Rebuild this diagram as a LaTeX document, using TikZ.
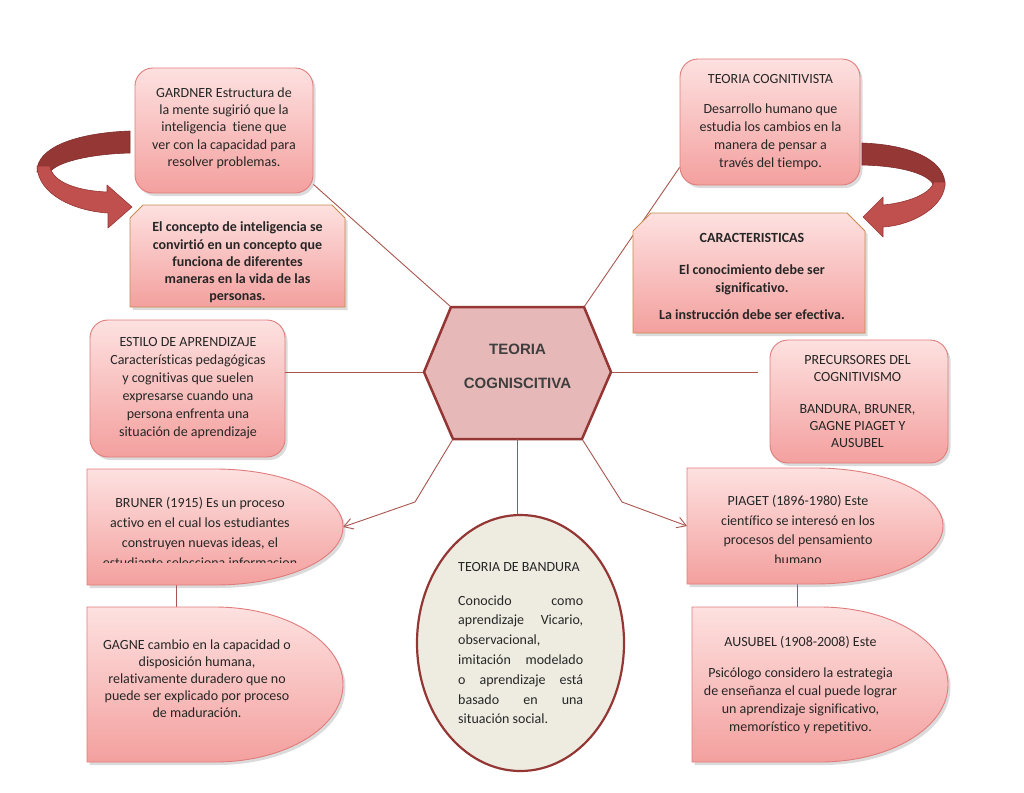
\documentclass[tikz,border=0pt]{standalone}
\usepackage{fontspec}
\setmainfont{Carlito}[Ligatures={NoCommon}]
\newfontfamily\hexfont{Liberation Sans}
\usetikzlibrary{arrows.meta,shadows,shapes.geometric,calc}
\definecolor{pinktop}{HTML}{FDE1E0}
\definecolor{pinkbot}{HTML}{F3A09E}
\definecolor{boxedge}{HTML}{E07C7C}
\definecolor{snipedge}{HTML}{C98A4E}
\definecolor{linkc}{HTML}{A8554F}
\definecolor{darkred}{HTML}{943634}
\definecolor{backarrow}{HTML}{953735}
\definecolor{frontarrow}{HTML}{C0504D}
\definecolor{hexfill}{HTML}{E6B9B8}
\definecolor{ellfill}{HTML}{EEECE1}
\definecolor{txt}{HTML}{262626}
\definecolor{hextxt}{HTML}{3F3F3F}
\tikzset{
  softshadow/.style={drop shadow={shadow xshift=2.5pt, shadow yshift=-3pt, opacity=0.28}},
  roundbox/.style={draw=boxedge, line width=0.9pt, rounded corners=18pt, top color=pinktop, bottom color=pinkbot, softshadow, inner sep=0pt},
  snipbox/.style={draw=snipedge, line width=0.9pt, top color=pinktop, bottom color=pinkbot, softshadow},
  delaybox/.style={draw=boxedge, line width=0.9pt, top color=pinktop, bottom color=pinkbot, softshadow},
  txtnode/.style={text=txt, align=center, inner sep=0pt, font=\fontsize{14}{18}\selectfont},
  link/.style={draw=linkc, line width=0.9pt},
  linkarrow/.style={link, -{Straight Barb[length=9pt,width=11pt]}},
  backband/.style={fill=backarrow, draw=darkred!85!black, line width=0.6pt},
  frontband/.style={fill=frontarrow, draw=darkred, line width=0.6pt},
  hextext/.style={text=hextxt, inner sep=0pt, font=\hexfont\bfseries\fontsize{15}{18}\selectfont}
}
\begin{document}
\begin{tikzpicture}[x=1pt, y=-1pt, line join=round]
\fill[white] (0,0) rectangle (1024,792);
\useasboundingbox (0,0) rectangle (1024,792);

% ---------- shape nodes ----------
\node[roundbox, minimum width=178pt, minimum height=125pt] (gardner) at (224,130.5) {};
\node[roundbox, minimum width=180pt, minimum height=126pt] (cog) at (770,122) {};
\node[roundbox, minimum width=195pt, minimum height=137pt] (estilo) at (187.5,388.5) {};
\node[roundbox, minimum width=178pt, minimum height=123pt] (prec) at (859,401.5) {};

% hexagon corners
\coordinate (hTL) at (451,307);
\coordinate (hTR) at (584,307);
\coordinate (hR) at (611,372);
\coordinate (hBR) at (582,439);
\coordinate (hB) at (517.5,439);
\coordinate (hBL) at (453,439);
\coordinate (hL) at (424,372);

% delay shape anchor points
\coordinate (brE) at (343,527);
\coordinate (brS) at (176,585);
\coordinate (gaN) at (176,607);
\coordinate (piW) at (687,526);
\coordinate (piS) at (797,584);
\coordinate (auN) at (797,607);
\coordinate (bendL) at (415,502);
\coordinate (bendR) at (622,502);
\coordinate (precend) at (758,372);

% ---------- connectors ----------
\draw[link] ($(gardner.south east)+(0,-9)$) -- (hTL);
\draw[link] ($(cog.south west)+(0,-18)$) -- (hTR);
\draw[link] (estilo.east |- hL) -- (hL);
\draw[link] (hR) -- (precend);
\draw[linkarrow] (hBL) -- (bendL) -- (brE);
\draw[linkarrow] (hBR) -- (bendR) -- (piW);
\draw[link] (brS) -- (gaN);
\draw[link] (piS) -- (auN);

% ---------- snipped boxes ----------
\path[snipbox] (130,307) -- (130,218) -- (143,205) -- (332,205) -- (345,218) -- (345,307) -- cycle;
\path[snipbox] (633,333) -- (633,231) -- (651,213) -- (847,213) -- (865,231) -- (865,333) -- cycle;

% ---------- delay boxes ----------
\path[delaybox] (87,469) -- (215,469) arc[start angle=-90, end angle=90, x radius=128, y radius=58] -- (87,585) -- cycle;
\path[delaybox] (87,607) -- (215,607) arc[start angle=-90, end angle=90, x radius=128, y radius=77.5] -- (87,762) -- cycle;
\path[delaybox] (687,468) -- (815,468) arc[start angle=-90, end angle=90, x radius=128, y radius=58] -- (687,584) -- cycle;
\path[delaybox] (692,607) -- (820,607) arc[start angle=-90, end angle=90, x radius=128, y radius=77.5] -- (692,762) -- cycle;

% ---------- hexagon ----------
\path[draw=darkred, line width=2.5pt, fill=hexfill] (hTL) -- (hTR) -- (hR) -- (hBR) -- (hBL) -- (hL) -- cycle;
\node[hextext] (hexA) at (517.5,349) {TEORIA};
\node[hextext] (hexB) at (517.5,383.5) {COGNISCITIVA};
\draw[link] (hB) -- (hB |- 0,515);

% ---------- ellipse ----------
\node[ellipse, draw=darkred, line width=2.2pt, fill=ellfill, minimum width=207pt, minimum height=256pt, inner sep=0pt] (bandura) at (520.5,643) {};

% ---------- curved arrows ----------
\path[backband] (130,131) .. controls (75,133) and (36,148) .. (37,172) -- (50,172) .. controls (57,162) and (90,154) .. (130,153) -- cycle;
\path[frontband] (37,166) .. controls (38,195) and (75,211) .. (108,213) -- (108,228) -- (132,207) -- (107,185) -- (107,192) .. controls (80,191) and (52,183) .. (50,166) -- cycle;
\path[backband] (862,143) .. controls (915,145) and (946,162) .. (945,186) -- (934,186) .. controls (930,175) and (905,166) .. (862,165) -- cycle;
\path[frontband] (945,182) .. controls (946,205) and (915,225) .. (883,227) -- (883,237) -- (863,217) -- (883,197) -- (883,205) .. controls (905,203) and (930,195) .. (934,182) -- cycle;

% ---------- texts ----------
\node[txtnode, font=\fontsize{14}{17.3}\selectfont] (gardnerT) at (224,128) {GARDNER Estructura de\\la mente sugirió que la\\inteligencia\ \ tiene que\\ver con la capacidad para\\resolver problemas.};
\node[txtnode, font=\bfseries\fontsize{14}{17.3}\selectfont] (conceptoT) at (237.5,262.5) {El concepto de inteligencia se\\convirtió en un concepto que\\funciona de diferentes\\maneras en la vida de las\\personas.};
\node[txtnode] (cogT) at (770.5,122.5) {TEORIA COGNITIVISTA\\[12pt]Desarrollo humano que\\estudia los cambios en la\\manera de pensar a\\través del tiempo.};
\node[txtnode, font=\bfseries\fontsize{14}{18}\selectfont] (caracT) at (752,276.5) {CARACTERISTICAS\\[14pt]El conocimiento debe ser\\significativo.\\[9pt]La instrucción debe ser efectiva.};
\node[txtnode] (estiloT) at (188,388) {ESTILO DE APRENDIZAJE\\Características pedagógicas\\y cognitivas que suelen\\expresarse cuando una\\persona enfrenta una\\situación de aprendizaje};
\node[txtnode, font=\fontsize{14}{17}\selectfont] (precT) at (857.5,401.5) {PRECURSORES DEL\\COGNITIVISMO\\[15pt]BANDURA, BRUNER,\\GAGNE PIAGET Y\\AUSUBEL};
\begin{scope}
\clip (80,455) rectangle (350,562.5);
\node[txtnode, font=\fontsize{14}{20}\selectfont] (brunerT) at (200,532) {BRUNER (1915) Es un proceso\\activo en el cual los estudiantes\\construyen nuevas ideas, el\\estudiante selecciona informacion};
\end{scope}
\node[txtnode, font=\fontsize{14}{17}\selectfont] (gagneT) at (197,679) {GAGNE cambio en la capacidad o\\disposición humana,\\relativamente duradero que no\\puede ser explicado por proceso\\de maduración.};
\begin{scope}
\clip (680,455) rectangle (950,562);
\node[txtnode, font=\fontsize{14}{19.5}\selectfont] (piagetT) at (798,530) {PIAGET (1896-1980) Este\\científico se interesó en los\\procesos del pensamiento\\humano};
\end{scope}
\node[txtnode, font=\fontsize{14}{17.8}\selectfont] (ausubelT) at (800.5,685) {AUSUBEL (1908-2008) Este\\[13pt]Psicólogo considero la estrategia\\de enseñanza el cual puede lograr\\un aprendizaje significativo,\\memorístico y repetitivo.};
\node[txtnode, align=left, anchor=north west, font=\fontsize{14}{19.8}\selectfont] (banduraT) at (458,562) {TEORIA DE BANDURA\\[14pt]%
\makebox[125pt][s]{Conocido como}\\%
\makebox[125pt][s]{aprendizaje Vicario,}\\%
observacional,\\%
\makebox[125pt][s]{imitación modelado}\\%
\makebox[125pt][s]{o aprendizaje está}\\%
\makebox[125pt][s]{basado en una}\\%
situación social.};
\end{tikzpicture}
\end{document}
